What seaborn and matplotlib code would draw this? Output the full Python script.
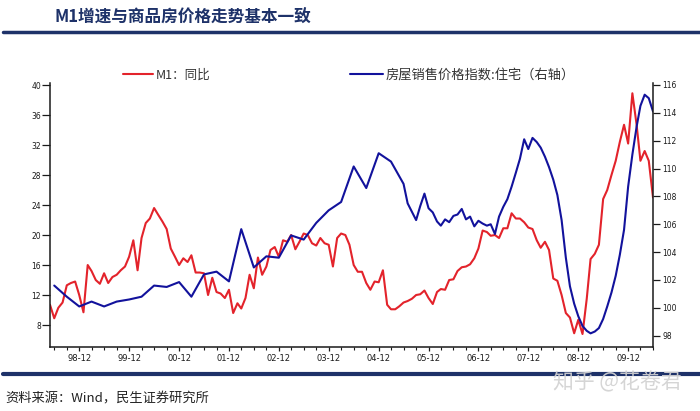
import pandas as pd
import matplotlib
matplotlib.use("Agg")
import matplotlib.pyplot as plt
import matplotlib.dates as mdates
from matplotlib.lines import Line2D
import seaborn as sns

# ---------------- text ----------------
title = "M1增速与商品房价格走势基本一致"
source = "资料来源：Wind，民生证券研究所"
watermark = "知乎 @花卷君"
m1_label = "M1：同比"
hpi_label = "房屋销售价格指数:住宅（右轴）"

# ---------------- data ----------------
# M1 year-on-year growth (%), monthly from 1998-05 to 2010-06
m1_start = "1998-05-01"
m1_yoy = [
    10.7, 8.9, 10.3, 11.0, 13.3, 13.6, 13.8, 12.0, 9.7, 16.0,
    15.2, 14.0, 13.5, 14.9, 13.6, 14.4, 14.7, 15.3, 15.8, 17.1,
    19.3, 15.3, 19.6, 21.6, 22.2, 23.6, 22.7, 21.8, 20.8, 18.2,
    17.1, 16.0, 16.9, 16.4, 17.3, 15.0, 15.0,
    14.9, 12.0, 14.3, 12.4, 12.2, 11.6, 12.7, 9.6, 10.9, 10.2,
    11.6, 14.7, 12.9, 17.0, 14.7, 15.8, 18.0, 18.4, 17.1, 19.3,
    19.1, 20.0, 18.1, 19.1, 20.2, 20.0, 18.9, 18.6, 19.6, 18.9,
    18.7, 15.8, 19.6, 20.2, 20.0, 18.7,
    16.0, 15.1, 15.1, 13.6, 12.7, 13.8, 13.7, 15.3, 10.7, 10.1,
    10.1, 10.5, 11.0, 11.2, 11.5, 12.0, 12.1, 12.6, 11.6, 10.8,
    12.4, 12.8, 12.7, 14.0, 14.1, 15.2, 15.7, 15.8, 16.1, 16.9,
    18.2, 20.6, 20.4, 19.9, 20.0, 19.6,
    20.9, 20.9, 22.9, 22.2, 22.2, 21.7, 21.0, 20.8, 19.3, 18.3,
    19.1, 18.0, 14.2, 13.9, 12.0, 9.6, 9.0, 6.9, 8.7, 6.8,
    11.5, 16.8, 17.5, 18.7, 24.8, 26.0, 28.0, 29.9, 32.4, 34.7,
    32.2, 38.9, 34.7, 29.9, 31.2, 29.9, 25.0,
]

# Housing sales price index (residential), quarterly 1998-06 .. 2005-06
hpi_quarterly_start = "1998-06-01"
hpi_quarterly = [
    101.6, 100.8, 100.1, 100.45, 100.1, 100.45, 100.6, 100.8, 101.6, 101.5,
    101.85, 100.8, 102.4, 102.6, 101.9, 105.65, 102.9, 103.7, 103.6, 105.2,
    104.9, 106.1, 107.0, 107.6, 110.15, 108.6, 111.1, 110.5, 108.9,
]
# then monthly 2005-07 .. 2010-06
hpi_monthly_start = "2005-07-01"
hpi_monthly = [
    107.5, 106.9, 106.3, 107.3, 108.2, 107.15, 106.85, 106.2, 105.9, 106.35,
    106.15, 106.6, 106.7, 107.1, 106.35, 106.55, 105.85, 106.25, 106.05, 105.9,
    106.0, 105.3, 106.55, 107.25, 107.8, 108.7, 109.7, 110.7, 112.1, 111.4,
    112.2, 111.9, 111.5, 110.85, 110.1, 109.2, 108.1, 106.3, 103.6, 101.55,
    100.3, 99.4, 98.7, 98.35, 98.17, 98.3, 98.55, 99.2, 100.1, 101.1,
    102.3, 103.8, 105.6, 108.7, 111.0, 113.0, 114.5, 115.3, 115.05, 114.1,
]

left_ticks = [8, 12, 16, 20, 24, 28, 32, 36, 40]
right_ticks = [98, 100, 102, 104, 106, 108, 110, 112, 114, 116]
x_range = ("1998-05-01", "2010-06-01")

# ---------------- style ----------------
RED = "#E3232B"
BLUE = "#12129C"
NAVY = "#1E3269"

sns.set_style("white")
plt.rcParams["font.family"] = ["Noto Sans CJK SC", "DejaVu Sans"]

m1_dates = pd.date_range(m1_start, periods=len(m1_yoy), freq="MS")
hpi_dates = pd.date_range(hpi_quarterly_start, periods=len(hpi_quarterly), freq="3MS").append(
    pd.date_range(hpi_monthly_start, periods=len(hpi_monthly), freq="MS"))
hpi_values = hpi_quarterly + hpi_monthly

W, H = 700, 411
fig = plt.figure(figsize=(7.0, 4.11), dpi=100)
fig.patch.set_facecolor("white")

ax = fig.add_axes([50 / W, 1 - 347 / H, 603 / W, 264 / H])
ax2 = ax.twinx()

sns.lineplot(x=m1_dates, y=m1_yoy, ax=ax, color=RED, linewidth=1.5)
sns.lineplot(x=hpi_dates, y=hpi_values, ax=ax2, color=BLUE, linewidth=1.5)

ax.set_xlim(pd.Timestamp(x_range[0]), pd.Timestamp(x_range[1]))
ax.set_ylim(5.07, 40.27)
ax2.set_ylim(97.19, 116.14)
ax.set_yticks(left_ticks)
ax2.set_yticks(right_ticks)
ax.set_xlabel("")
ax.set_ylabel("")
ax2.set_ylabel("")

ax.xaxis.set_major_locator(mdates.MonthLocator(bymonth=12))
ax.xaxis.set_minor_locator(mdates.MonthLocator(bymonth=[3, 6, 9]))
ax.xaxis.set_major_formatter(mdates.DateFormatter("%y-%m"))

for a in (ax, ax2):
    a.grid(False)
    a.spines["top"].set_visible(False)
    for s in a.spines.values():
        s.set_linewidth(1.1)
        s.set_color("#1a1a1a")
ax.spines["right"].set_visible(False)
ax2.spines["left"].set_visible(False)
ax2.spines["bottom"].set_visible(False)

ax.tick_params(axis="y", which="major", left=True, direction="out", length=6,
               width=0.9, pad=0.5, labelsize=5.5, colors="#1a1a1a",
               labelfontfamily="DejaVu Sans")
ax.tick_params(axis="x", which="major", bottom=True, direction="out", length=3,
               width=0.9, pad=2, labelsize=6, colors="#1a1a1a",
               labelfontfamily="DejaVu Sans")
ax.tick_params(axis="x", which="minor", bottom=True, direction="out", length=2,
               width=0.8, colors="#1a1a1a")
ax2.tick_params(axis="y", which="major", right=True, direction="out", length=5,
                width=0.9, pad=1.5, labelsize=5.5, colors="#1a1a1a",
                labelfontfamily="DejaVu Sans")

# legends
leg1 = ax.legend(handles=[Line2D([], [], color=RED, lw=1.5)], labels=[m1_label],
                 loc="center left", bbox_to_anchor=(123 / W, 1 - 75 / H),
                 bbox_transform=fig.transFigure, frameon=False, fontsize=9,
                 handlelength=2.4, handletextpad=0.2, borderpad=0, borderaxespad=0,
                 labelcolor="#333333")
leg2 = ax2.legend(handles=[Line2D([], [], color=BLUE, lw=1.5)], labels=[hpi_label],
                  loc="center left", bbox_to_anchor=(350 / W, 1 - 75 / H),
                  bbox_transform=fig.transFigure, frameon=False, fontsize=9.5,
                  handlelength=2.5, handletextpad=0.2, borderpad=0, borderaxespad=0,
                  labelcolor="#333333")

# header / footer
fig.text(55 / W, 1 - 18 / H, title, fontsize=12, fontweight="bold", color=NAVY,
         ha="left", va="center")
fig.add_artist(Line2D([3 / W, 1.0], [1 - 32.3 / H, 1 - 32.3 / H], color=NAVY,
                      linewidth=2.5, transform=fig.transFigure))
fig.add_artist(Line2D([3 / W, 1.0], [1 - 374 / H, 1 - 374 / H], color=NAVY,
                      linewidth=3.0, transform=fig.transFigure))
fig.text(5 / W, 1 - 399 / H, source, fontsize=9.5, color="#222222",
         ha="left", va="center")
fig.text(553 / W, 1 - 382 / H, watermark, fontsize=15, color="#d2d2d2", alpha=0.92,
         ha="left", va="center", zorder=10)

fig.savefig("out.png", dpi=100, facecolor="white")
